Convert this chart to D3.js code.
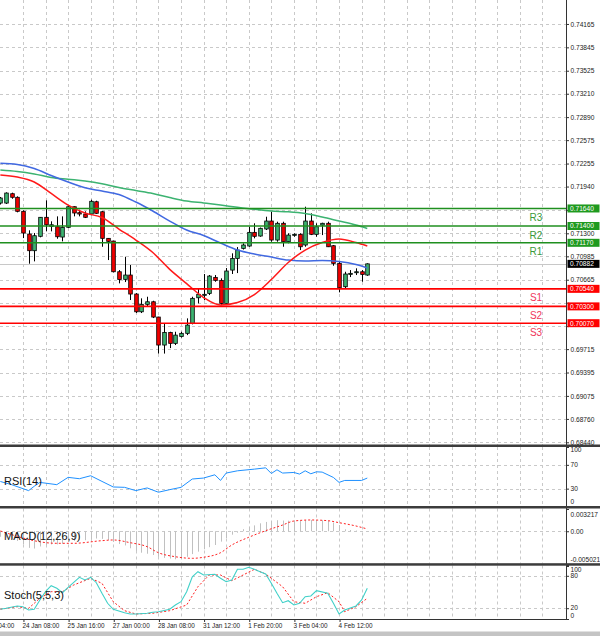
<!DOCTYPE html>
<html><head><meta charset="utf-8">
<script src="https://cdn.jsdelivr.net/npm/d3@7/dist/d3.min.js"></script>
<style>
html,body{margin:0;padding:0;background:#fff;}
svg{display:block;font-family:"Liberation Sans",Arial,sans-serif;}
</style></head><body>
<svg id="chart" width="600" height="636"></svg>
<script>
// ---------- DATA ----------
const opens  = [0.71714,0.71714,0.71842,0.71793,0.71601,0.71290,0.71062,0.71259,0.71519,0.71396,0.71390,0.71249,0.71382,0.71664,0.71582,0.71564,0.71564,0.71732,0.71595,0.71231,0.71194,0.70774,0.70670,0.70729,0.70469,0.70226,0.70328,0.70363,0.70154,0.69771,0.69942,0.69794,0.69887,0.69931,0.70068,0.70418,0.70455,0.70478,0.70697,0.70656,0.70341,0.70797,0.70957,0.71094,0.71126,0.71313,0.71263,0.71359,0.71468,0.71208,0.71437,0.71185,0.71276,0.71286,0.71140,0.71468,0.71286,0.71413,0.71437,0.71130,0.70889,0.70569,0.70747,0.70770,0.70774,0.70729];
const highs  = [0.71797,0.71861,0.71856,0.71806,0.71615,0.71341,0.71304,0.71523,0.71751,0.71464,0.71532,0.71532,0.71673,0.71669,0.71623,0.71601,0.71760,0.71746,0.71605,0.71235,0.71198,0.70797,0.70979,0.70866,0.70482,0.70410,0.70432,0.70377,0.70158,0.70068,0.69953,0.69953,0.69953,0.70136,0.70432,0.70547,0.70743,0.70729,0.70729,0.70684,0.70825,0.71026,0.71112,0.71163,0.71390,0.71437,0.71379,0.71527,0.71595,0.71459,0.71459,0.71300,0.71300,0.71300,0.71664,0.71574,0.71437,0.71445,0.71459,0.71140,0.70911,0.70774,0.70797,0.70821,0.70797,0.70889];
const lows   = [0.71694,0.71701,0.71773,0.71587,0.71235,0.70884,0.70916,0.71245,0.71327,0.71327,0.71226,0.71190,0.71372,0.71532,0.71532,0.71509,0.71546,0.71564,0.71116,0.70934,0.70766,0.70615,0.70633,0.70387,0.70209,0.70209,0.70304,0.70140,0.69654,0.69654,0.69729,0.69771,0.69873,0.69907,0.70054,0.70341,0.70387,0.70455,0.70637,0.70318,0.70318,0.70743,0.70756,0.71078,0.71116,0.71231,0.71253,0.71345,0.71185,0.71185,0.71116,0.71163,0.71253,0.71071,0.71116,0.71276,0.71253,0.71276,0.71112,0.70856,0.70492,0.70547,0.70701,0.70729,0.70637,0.70719];
const closes = [0.71783,0.71851,0.71793,0.71601,0.71304,0.71062,0.71267,0.71519,0.71417,0.71417,0.71253,0.71382,0.71664,0.71578,0.71564,0.71519,0.71738,0.71574,0.71231,0.71190,0.70774,0.70667,0.70729,0.70469,0.70226,0.70328,0.70363,0.70154,0.69771,0.69944,0.69794,0.69907,0.69931,0.70044,0.70410,0.70465,0.70465,0.70715,0.70656,0.70341,0.70784,0.70957,0.71071,0.71140,0.71313,0.71259,0.71368,0.71468,0.71208,0.71437,0.71185,0.71276,0.71286,0.71116,0.71468,0.71286,0.71390,0.71437,0.71116,0.70889,0.70555,0.70743,0.70752,0.70774,0.70738,0.70882];

const maIdx   = [0,3,6,9,12,15,18,21,24,27,30,33,36,39,42,45,48,51,54,57,60,63,65];
const maRed   = [0.72098,0.72070,0.72002,0.71845,0.71687,0.71578,0.71516,0.71359,0.71208,0.71037,0.70807,0.70612,0.70421,0.70318,0.70352,0.70462,0.70667,0.70900,0.71071,0.71174,0.71222,0.71174,0.71126];
const maBlue  = [0.72258,0.72242,0.72187,0.72091,0.72002,0.71923,0.71879,0.71831,0.71728,0.71605,0.71468,0.71345,0.71270,0.71167,0.71071,0.71016,0.70975,0.70934,0.70921,0.70927,0.70914,0.70873,0.70825];
const maGreen = [0.72166,0.72146,0.72112,0.72065,0.72040,0.72016,0.71979,0.71927,0.71886,0.71845,0.71790,0.71742,0.71715,0.71687,0.71656,0.71628,0.71605,0.71595,0.71571,0.71523,0.71468,0.71413,0.71365];

const levelNames  = ["R3","R2","R1","S1","S2","S3"];
const levelValues = [0.71640,0.71400,0.71170,0.70540,0.70300,0.70070];
const lastPrice = 0.70882;

const priceTicks = [0.74165,0.73845,0.73525,0.73210,0.72890,0.72575,0.72255,0.71940,0.71620,0.71300,0.70985,0.70665,0.70350,0.70030,0.69715,0.69395,0.69075,0.68760,0.68440];
const xLabelIdx = [-4,4,12,20,28,36,44,52,60];
const xLabels = ["21 Jan 04:00","24 Jan 08:00","25 Jan 16:00","27 Jan 00:00","28 Jan 08:00","31 Jan 12:00","1 Feb 20:00","3 Feb 04:00","4 Feb 12:00"];

const rsiIdx = [0,2,5,6,7,10,12,14,16,18,20,22,24,26,28,30,32,34,36,38,39,40,42,45,47,48,49,50,52,53,54,55,56,57,59,60,61,64,65];
const rsiVal = [42,36.7,26.7,34,40.5,36.7,49,46.7,51.7,42.2,32.8,32.2,26.7,31.2,24,28.3,32.2,46.2,47.8,53.3,43.8,56.2,60,62.8,65,55.5,61.7,56.2,57.2,54.5,60,55,58.3,57.8,48.8,40.5,43.8,43.8,47.8];
const rsiTicks = [100,70,30,0];

const macdVal = [-0.0008,-0.0009,-0.0011,-0.0014,-0.0019,-0.0024,-0.0025,-0.0022,-0.0020,-0.0019,
 -0.0019,-0.0018,-0.0015,-0.0014,-0.0013,-0.0013,-0.00116,-0.00105,-0.00110,-0.00126,
 -0.00155,-0.00185,-0.00205,-0.00246,-0.00285,-0.00310,-0.00325,-0.00343,-0.00370,-0.00385,
 -0.00395,-0.00405,-0.00398,-0.00370,-0.00330,-0.00295,-0.00260,-0.00230,-0.00199,-0.00150,
 -0.00100,-0.00050,-0.00021,0.00030,0.00066,0.00085,0.00115,0.00135,0.00150,0.00160,
 0.00155,0.00153,0.00153,0.00152,0.00160,0.00163,0.00163,0.00158,0.00150,0.00124,
 0.00090,0.00028,0.00018,0.00010,0.00002,-0.00004];
const macdSigIdx = [0,10,13,18,20,23,26,28,31,34,36,39,41,44,47,50,52,55,58,60,63,65];
const macdSig = [0.00004,-0.00174,-0.00174,-0.00136,-0.00126,-0.00165,-0.00223,-0.00310,-0.00368,-0.00391,-0.00376,-0.00310,-0.00199,-0.00087,0.00008,0.00090,0.00148,0.00163,0.00153,0.00124,0.00076,0.00033];
const macdTicks = [0.003217,0,-0.005021];
const macdTickLabels = ["0.003217","0.00","-0.005021"];

const stochKIdx = [0,1,3,4,5,6,7,8,9,10,11,12,14,15,16,17,18,19,20,22,23,24,26,27,28,30,31,32,33,34,35,36,38,39,40,41,42,43,44,45,46,47,48,49,50,51,52,53,54,55,56,58,59,60,61,63,64,65];
const stochK = [18,19.8,24,22.8,16.7,18,35.2,50.6,61.7,56.9,48.7,58.7,77.2,72.2,77.2,67.2,47.6,29.1,18,11.7,9.3,9.3,10.6,12.4,13.5,18,25.9,32,50.6,78.3,87.6,81.5,82.8,75.4,69.1,72.2,92,92,95.7,92,87.6,83.3,66.1,47.6,30.2,33.9,25.9,29.1,41.3,42.6,52.4,47.6,29.1,9.3,16.7,24.1,35.2,56.9];
const stochDIdx = [0,3,5,7,9,11,13,16,18,20,22,24,27,30,33,35,37,39,41,43,45,47,50,52,54,56,58,60,61,63,65];
const stochD = [18,22.8,19.8,38.3,50.6,50.6,63,75.4,66.1,32,15.4,9.3,10.6,15.4,25.9,59.8,81.5,81.5,70.9,81.5,92,83.3,59.8,32,29.1,41.3,48.7,32,13.5,22.8,38.3];
const stochTicks = [100,80,20,0];

// ---------- LAYOUT ----------
const svg = d3.select('#chart');
const PR = 566;
const panels = {main:[0,445], rsi:[447,506.5], macd:[508.5,563.5], sto:[565.5,619]};
const x = d3.scaleLinear().domain([0,100]).range([0.36, 564.86]);
const y = d3.scaleLinear().domain([0.68403,0.74493]).range([445,0]);
const yRsi = d3.scaleLinear().domain([0,100]).range([506.5,447]);
const yMacd = d3.scaleLinear().domain([-0.005021,0.003217]).range([566,509]);
const ySto = d3.scaleLinear().domain([0,100]).range([619,565]);

const defs = svg.append('defs');
Object.entries(panels).forEach(([k,[a,b]])=>{
  defs.append('clipPath').attr('id','c_'+k).append('rect')
    .attr('x',0).attr('y',a).attr('width',PR).attr('height',b-a);
});

const gridColor = '#c9c9c9';
const crisp = v => Math.round(v)+0.5;

// vertical grid in all panels
const vIdx = d3.range(4,100,4);
Object.values(panels).forEach(([a,b])=>{
  svg.append('g').selectAll('line').data(vIdx).join('line')
    .attr('x1',d=>crisp(x(d))).attr('x2',d=>crisp(x(d)))
    .attr('y1',a).attr('y2',b)
    .attr('stroke',gridColor).attr('stroke-dasharray','3,3');
});

// main horizontal grid
svg.append('g').selectAll('line').data(priceTicks).join('line')
  .attr('x1',0).attr('x2',PR).attr('y1',d=>crisp(y(d))).attr('y2',d=>crisp(y(d)))
  .attr('stroke',gridColor).attr('stroke-dasharray','3,3');

// last price line
svg.append('line').attr('x1',0).attr('x2',PR)
  .attr('y1',crisp(y(lastPrice))).attr('y2',crisp(y(lastPrice)))
  .attr('stroke','#c8c8c8').attr('stroke-width',1);

// ---------- CANDLES ----------
const gMain = svg.append('g').attr('clip-path','url(#c_main)');
const bw = 3.6;
const cIdx = d3.range(opens.length);
gMain.append('g').selectAll('line').data(cIdx).join('line')
  .attr('x1',i=>crisp(x(i))).attr('x2',i=>crisp(x(i)))
  .attr('y1',i=>y(highs[i])).attr('y2',i=>y(lows[i]))
  .attr('stroke','#000').attr('stroke-width',1);
gMain.append('g').selectAll('rect').data(cIdx).join('rect')
  .attr('x',i=>crisp(x(i))-bw/2).attr('width',bw)
  .attr('y',i=>y(Math.max(opens[i],closes[i])))
  .attr('height',i=>Math.max(1,Math.abs(y(opens[i])-y(closes[i]))))
  .attr('fill',i=>closes[i]>=opens[i]?'#3cb371':'#f00000')
  .attr('stroke','#000').attr('stroke-width',0.8);

// ---------- MOVING AVERAGES ----------
const maLine = vals => d3.line().x((d,k)=>x(maIdx[k])).y(d=>y(d)).curve(d3.curveMonotoneX)(vals);
[[maGreen,'#3cb371'],[maBlue,'#4169e1'],[maRed,'#ff1a1a']].forEach(([vals,col])=>{
  gMain.append('path').attr('d',maLine(vals)).attr('fill','none')
    .attr('stroke',col).attr('stroke-width',1.5);
});

// ---------- LEVELS ----------
levelValues.forEach((v,k)=>{
  const isR = levelNames[k][0]==='R';
  const lc = isR ? '#1f8f1f' : '#ff0000';
  svg.append('line').attr('x1',0).attr('x2',PR).attr('y1',y(v)).attr('y2',y(v))
    .attr('stroke',lc).attr('stroke-width',1.6);
  svg.append('text').attr('x',536).attr('y',y(v)+12.5).attr('text-anchor','middle')
    .attr('font-size',10).attr('fill',isR?'#3a9a3a':'#f0385c').text(levelNames[k]);
});

// ---------- RIGHT PRICE AXIS ----------
// tick labels hidden behind the coloured level boxes are not drawn
const covered = t => levelValues.some(v => Math.abs(y(v)-y(t)) < 7) || Math.abs(y(lastPrice)-y(t)) < 7;
const axMain = svg.append('g').attr('transform',`translate(${PR},0)`)
  .call(d3.axisRight(y).tickValues(priceTicks).tickFormat(t => covered(t) ? '' : d3.format('.5f')(t)).tickSize(3).tickPadding(1.5));
axMain.select('.domain').remove();
axMain.selectAll('line').attr('stroke','#333');
axMain.selectAll('text').attr('font-size',6.6).attr('fill','#222').attr('font-family','"Liberation Sans",Arial,sans-serif');

function priceBox(v,bg){
  const yy = y(v);
  svg.append('rect').attr('x',567.5).attr('y',yy-4).attr('width',32).attr('height',8).attr('fill',bg);
  svg.append('text').attr('x',570).attr('y',yy+2.4).attr('font-size',6.6).attr('fill','#fff')
    .text(d3.format('.5f')(v));
}
levelValues.forEach((v,k)=>priceBox(v, levelNames[k][0]==='R' ? '#1f9a1f' : '#ff0000'));
priceBox(lastPrice,'#000');

// ---------- RSI ----------
const gRsi = svg.append('g').attr('clip-path','url(#c_rsi)');
gRsi.selectAll('line.h').data([70,30]).join('line')
  .attr('x1',0).attr('x2',PR).attr('y1',d=>crisp(yRsi(d))).attr('y2',d=>crisp(yRsi(d)))
  .attr('stroke',gridColor).attr('stroke-dasharray','3,3');
gRsi.append('path').attr('fill','none').attr('stroke','#1e90ff').attr('stroke-width',1)
  .attr('d',d3.line().x((d,k)=>x(rsiIdx[k])).y(d=>yRsi(d))(rsiVal));
svg.append('text').attr('x',4).attr('y',485).attr('font-size',11).attr('fill','#111').text('RSI(14)');
const axRsi = svg.append('g').attr('transform',`translate(${PR},0)`)
  .call(d3.axisRight(yRsi).tickValues(rsiTicks).tickSize(3).tickPadding(1.5));
axRsi.select('.domain').remove();
axRsi.selectAll('line').attr('stroke','#333');
axRsi.selectAll('text').attr('font-size',6.6).attr('fill','#222')
  .attr('dy',d=>d===100?'0.75em':(d===0?'-0.45em':'0.32em'));

// ---------- MACD ----------
const gMacd = svg.append('g').attr('clip-path','url(#c_macd)');
gMacd.append('line').attr('x1',0).attr('x2',PR).attr('y1',crisp(yMacd(0))).attr('y2',crisp(yMacd(0)))
  .attr('stroke',gridColor).attr('stroke-dasharray','3,3');
gMacd.append('g').selectAll('line').data(macdVal).join('line')
  .attr('x1',(d,i)=>crisp(x(i))).attr('x2',(d,i)=>crisp(x(i)))
  .attr('y1',yMacd(0)).attr('y2',d=>yMacd(d))
  .attr('stroke','#c0c0c0').attr('stroke-width',1);
gMacd.append('path').attr('fill','none').attr('stroke','#ff2020').attr('stroke-width',1)
  .attr('stroke-dasharray','2,2')
  .attr('d',d3.line().x((d,k)=>x(macdSigIdx[k])).y(d=>yMacd(d)).curve(d3.curveMonotoneX)(macdSig));
svg.append('text').attr('x',4).attr('y',540).attr('font-size',11).attr('fill','#111').text('MACD(12,26,9)');
const axMacd = svg.append('g').attr('transform',`translate(${PR},0)`)
  .call(d3.axisRight(yMacd).tickValues(macdTicks).tickFormat((d,k)=>macdTickLabels[k]).tickSize(3).tickPadding(1.5));
axMacd.select('.domain').remove();
axMacd.selectAll('line').attr('stroke','#333');
axMacd.selectAll('text').attr('font-size',6.6).attr('fill','#222')
  .attr('dy',(d,k)=>k===0?'1.1em':(k===2?'-0.75em':'0.32em'));

// ---------- STOCH ----------
const gSto = svg.append('g').attr('clip-path','url(#c_sto)');
gSto.selectAll('line.h').data([80,20]).join('line')
  .attr('x1',0).attr('x2',PR).attr('y1',d=>crisp(ySto(d))).attr('y2',d=>crisp(ySto(d)))
  .attr('stroke',gridColor).attr('stroke-dasharray','3,3');
gSto.append('path').attr('fill','none').attr('stroke','#ff2020').attr('stroke-width',1)
  .attr('stroke-dasharray','2,2')
  .attr('d',d3.line().x((d,k)=>x(stochDIdx[k])).y(d=>ySto(d))(stochD));
gSto.append('path').attr('fill','none').attr('stroke','#40d0c8').attr('stroke-width',1.1)
  .attr('d',d3.line().x((d,k)=>x(stochKIdx[k])).y(d=>ySto(d))(stochK));
svg.append('text').attr('x',4).attr('y',599).attr('font-size',11).attr('fill','#111').text('Stoch(5,5,3)');
const axSto = svg.append('g').attr('transform',`translate(${PR},0)`)
  .call(d3.axisRight(ySto).tickValues(stochTicks).tickSize(3).tickPadding(1.5));
axSto.select('.domain').remove();
axSto.selectAll('line').attr('stroke','#333');
axSto.selectAll('text').attr('font-size',6.6).attr('fill','#222')
  .attr('dy',d=>d===100?'0.95em':(d===0?'-0.2em':(d===20?'0.15em':'0.32em')));

// ---------- X AXIS ----------
const axX = svg.append('g').attr('transform','translate(0,619)')
  .call(d3.axisBottom(x).tickValues(xLabelIdx).tickFormat((d,k)=>xLabels[k]).tickSize(3).tickPadding(1));
axX.select('.domain').remove();
axX.selectAll('line').attr('stroke','#333').attr('transform','translate(0.5,0)');
axX.selectAll('text').attr('font-size',6.4).attr('fill','#222').attr('text-anchor','start').attr('dx',-1);

// ---------- FRAME ----------
svg.append('line').attr('x1',PR+0.5).attr('x2',PR+0.5).attr('y1',0).attr('y2',619).attr('stroke','#333');
[[444.5,2.5],[506,2.5],[563.2,2.5]].forEach(([yy,h])=>{
  svg.append('rect').attr('x',0).attr('y',yy).attr('width',600).attr('height',h).attr('fill','#3c3c3c');
});
svg.append('line').attr('x1',0).attr('x2',PR).attr('y1',619.5).attr('y2',619.5).attr('stroke','#333');
svg.append('rect').attr('x',0).attr('y',631.5).attr('width',600).attr('height',4.5).attr('fill','#c4c4c4');
</script>
</body></html>
